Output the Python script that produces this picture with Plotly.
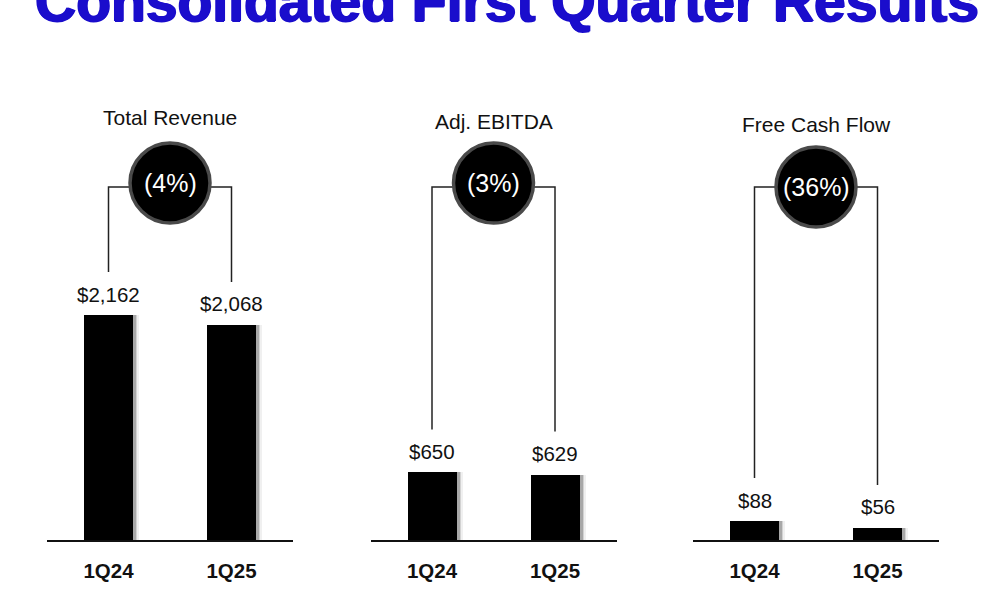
import plotly.graph_objects as go

# ---------------- data ----------------
title_text = "Consolidated First Quarter Results"
panel_titles = ["Total Revenue", "Adj. EBITDA", "Free Cash Flow"]
quarters = ["1Q24", "1Q25"]
total_revenue = [2162, 2068]
adj_ebitda = [650, 629]
free_cash_flow = [88, 56]
change_labels = ["(4%)", "(3%)", "(36%)"]
panel_values = [total_revenue, adj_ebitda, free_cash_flow]

# ---------------- layout config ----------------
W, H = 1000, 600
x_domains = [[0.047, 0.293], [0.3705, 0.6165], [0.693, 0.939]]
y_domain = [0.1, 0.8333]
y_max = [4230, 4230, 2040]
title_px = [117, 121, 124]
circle_px = [183, 183, 187]
bracket_px = 187
bracket_gap_px = 43
circle_r = 40
text_font = "Arial, Liberation Sans, Helvetica, sans-serif"
blue = "#1a0dcc"

plot_px = (y_domain[1] - y_domain[0]) * H
baseline_px = H * (1 - y_domain[0])

fig = go.Figure()
shapes = []
annotations = []

for i in range(3):
    xa = "x" if i == 0 else f"x{i+1}"
    ya = "y" if i == 0 else f"y{i+1}"
    vals = panel_values[i]
    ppu = plot_px / y_max[i]

    # soft shadow bars
    for off_x, alpha in [(0.05, 0.06), (0.035, 0.12), (0.02, 0.2)]:
        fig.add_trace(go.Bar(x=quarters, y=vals, xaxis=xa, yaxis=ya, width=0.4, offset=-0.2 + off_x,
                             marker=dict(color=f"rgba(0,0,0,{alpha})", line=dict(width=0)),
                             hoverinfo="skip"))
    # main bars
    fig.add_trace(go.Bar(x=quarters, y=vals, xaxis=xa, yaxis=ya, width=0.4, offset=-0.2,
                         marker=dict(color="#000000", line=dict(width=0))))

    fig.update_layout(**{
        ("xaxis" if i == 0 else f"xaxis{i+1}"): dict(
            domain=x_domains[i], anchor=ya, type="category", range=[-0.5, 1.5],
            showline=True, linecolor="#111111", linewidth=1.6, showgrid=False, zeroline=False,
            ticks="outside", ticklen=12, tickcolor="rgba(0,0,0,0)",
            tickfont=dict(family=text_font, size=20.5, color="#111111", weight="bold"),
            fixedrange=True),
        ("yaxis" if i == 0 else f"yaxis{i+1}"): dict(
            domain=y_domain, anchor=xa, range=[0, y_max[i]], visible=False, fixedrange=True),
    })

    # bracket
    off = bracket_gap_px / ppu
    ytop = (baseline_px - bracket_px) / ppu
    shapes.append(dict(type="path", xref=xa, yref=ya,
                       path=f"M 0,{vals[0] + off} L 0,{ytop} L 1,{ytop} L 1,{vals[1] + off}",
                       line=dict(color="#222222", width=1.5)))
    # circle
    cy = 1 - circle_px[i] / H
    shapes.append(dict(type="circle", xref=xa, yref="paper", xsizemode="pixel", ysizemode="pixel",
                       xanchor=0.5, yanchor=cy, x0=-circle_r, x1=circle_r, y0=-circle_r, y1=circle_r,
                       fillcolor="#000000", line=dict(color="#4a4a4a", width=3.5)))
    annotations.append(dict(xref=xa, yref="paper", x=0.5, y=cy, yanchor="middle", text=change_labels[i],
                            showarrow=False, font=dict(family=text_font, size=25, color="#ffffff")))
    # panel title
    annotations.append(dict(xref=xa, yref="paper", x=0.5, y=1 - title_px[i] / H, yanchor="middle",
                            text=panel_titles[i], showarrow=False,
                            font=dict(family=text_font, size=21, color="#111111")))
    # value labels
    for q, v in zip(quarters, vals):
        annotations.append(dict(xref=xa, yref=ya, x=q, y=v, text=f"${v:,}", showarrow=False,
                                yanchor="middle", yshift=21,
                                font=dict(family=text_font, size=20.5, color="#111111")))

# main title (partly cut off by top of page, as in the source slide)
annotations.append(dict(xref="paper", yref="paper", x=0.507, y=0.941, yanchor="bottom", xanchor="center",
                        text=f"<b>{title_text}</b>", showarrow=False,
                        font=dict(family="Liberation Sans, Arial, sans-serif", size=57, color=blue,
                                  shadow=f"1px 0px 0px {blue}, -1px 0px 0px {blue}, 0px 1px 0px {blue}")))

fig.update_layout(
    width=W, height=H, margin=dict(l=0, r=0, t=0, b=0),
    paper_bgcolor="white", plot_bgcolor="white",
    barmode="overlay", showlegend=False, bargap=0,
    shapes=shapes, annotations=annotations,
)

fig.write_html("out.html")
